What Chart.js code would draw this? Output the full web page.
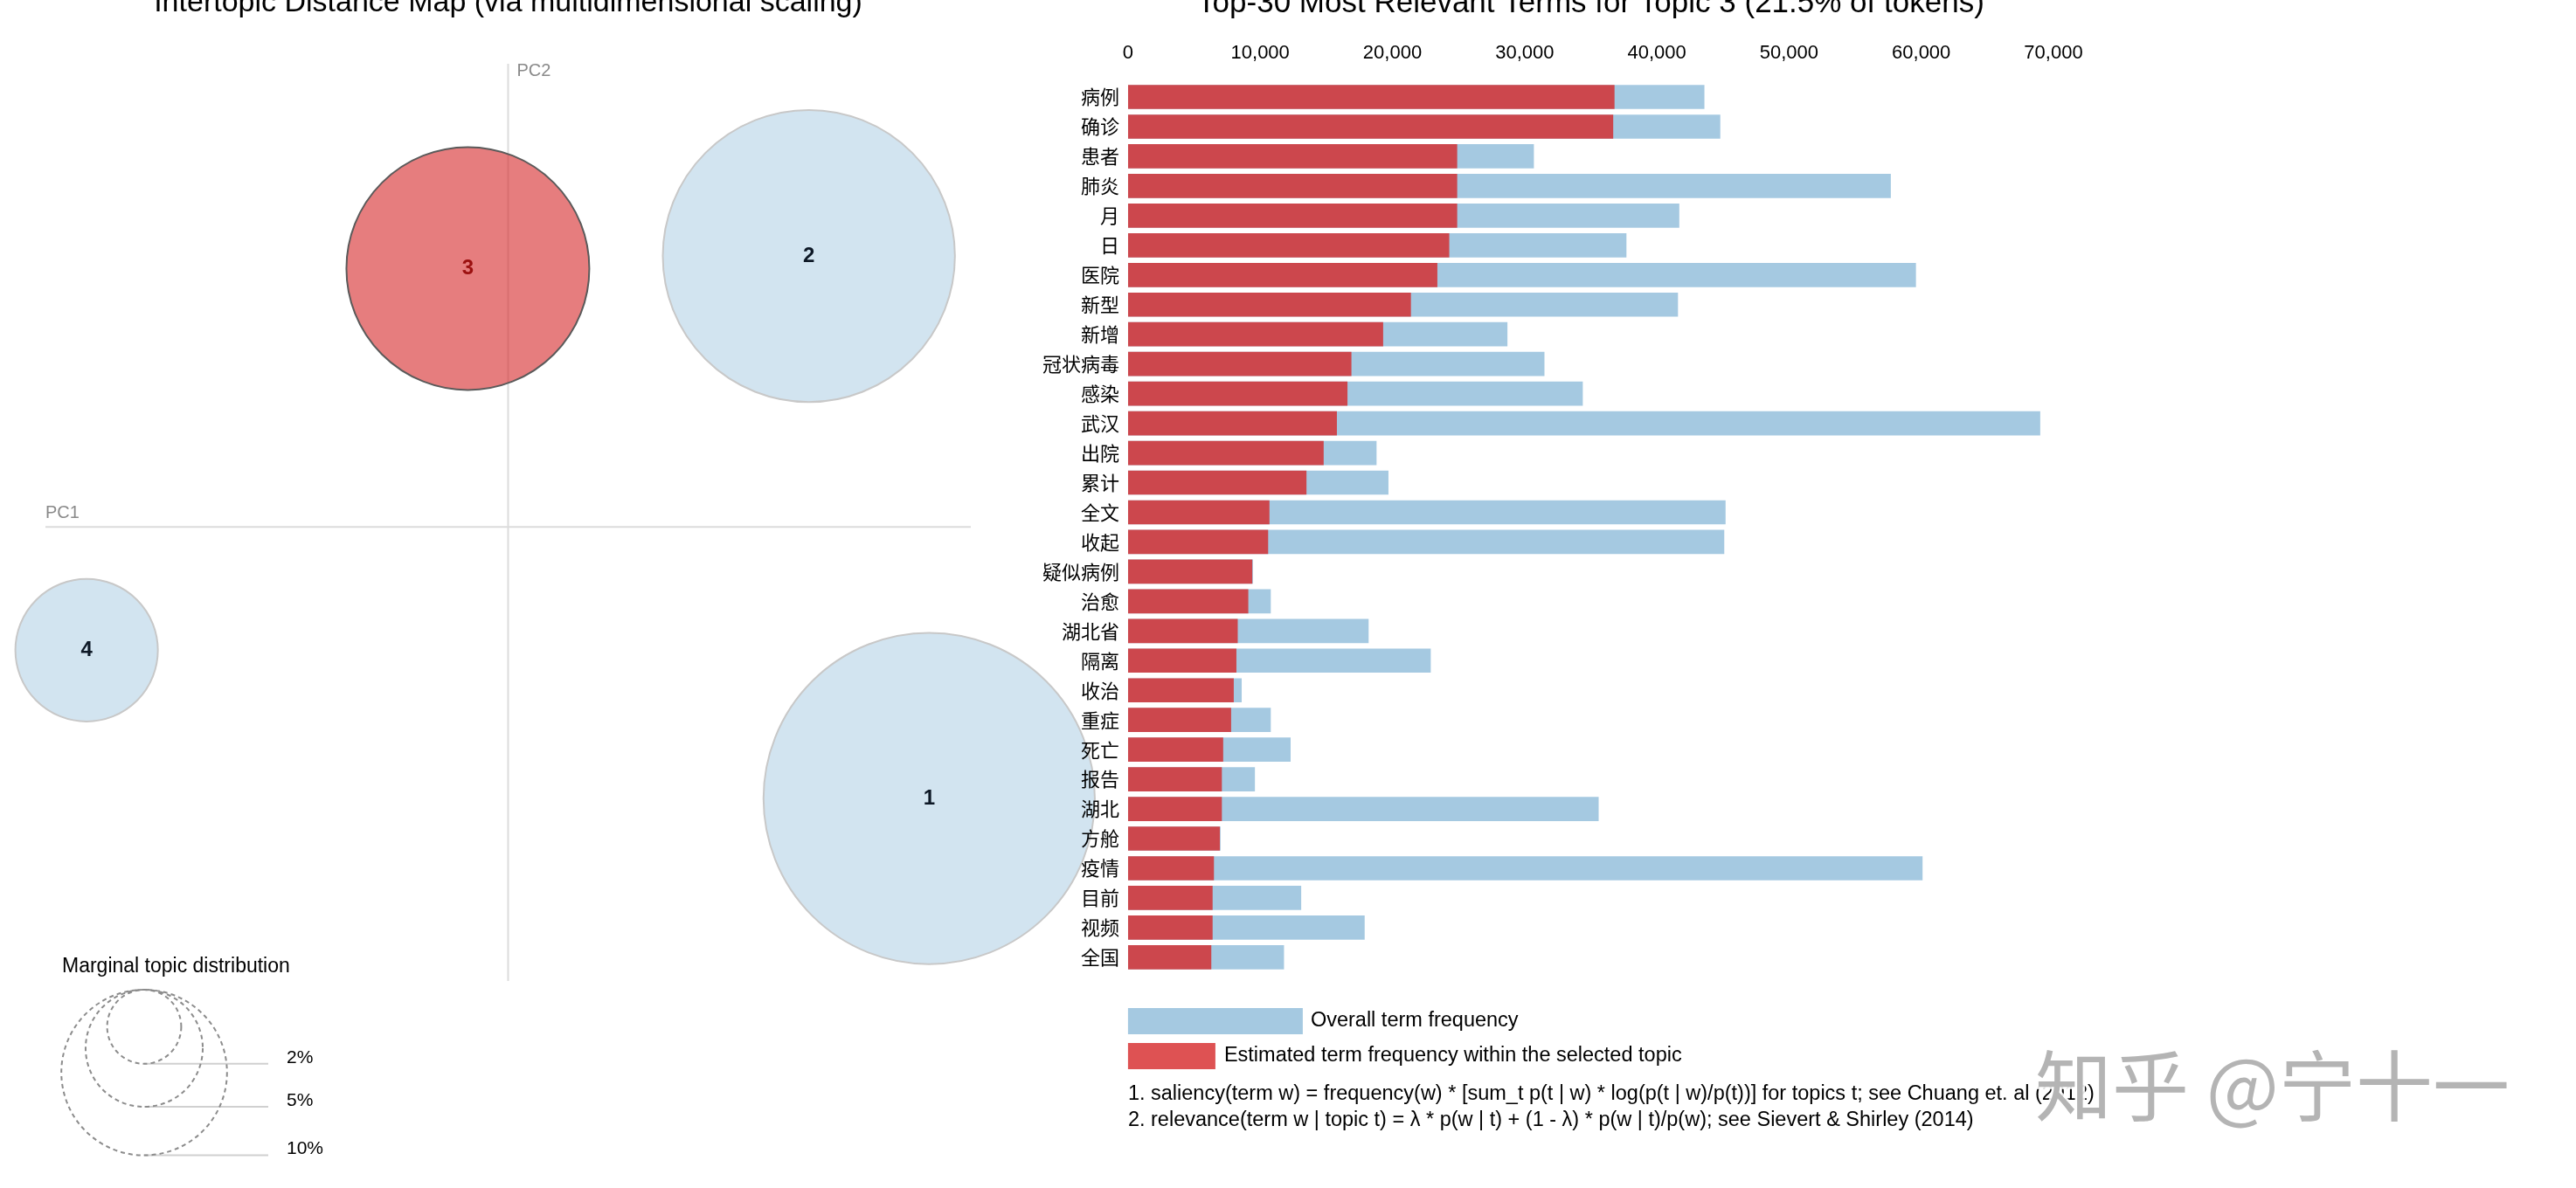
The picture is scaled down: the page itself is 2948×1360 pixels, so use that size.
<!DOCTYPE html>
<html>
<head>
<meta charset="utf-8">
<script src="https://cdn.jsdelivr.net/npm/chart.js@4"></script>
<style>
  html, body { margin: 0; padding: 0; background: #fff; overflow: hidden; }
  #wrap { position: relative; width: 2948px; height: 1360px; overflow: hidden; background: #fff; }
  canvas { position: absolute; }
</style>
</head>
<body>
<div id="wrap">
  <canvas id="mds" width="1300" height="1377" style="left:0;top:-17px"></canvas>
  <canvas id="bars" width="1798" height="1377" style="left:1150px;top:-17px"></canvas>
</div>
<script>
// ---------------- data ----------------
const TOPIC_IDS   = [1, 2, 3, 4];
const TOPIC_PC1   = [0.910, 0.650, -0.087, -0.911];
const TOPIC_PC2   = [-0.586, 0.585, 0.558, -0.266];
const TOPIC_SHARE = [40.0, 31.1, 21.5, 7.4];          // % of tokens
const SELECTED_TOPIC = 3;
const MARGINAL_LEGEND = [2, 5, 10];                    // %

const TERMS = ['病例','确诊','患者','肺炎','月','日','医院','新型','新增','冠状病毒',
               '感染','武汉','出院','累计','全文','收起','疑似病例','治愈','湖北省','隔离',
               '收治','重症','死亡','报告','湖北','方舱','疫情','目前','视频','全国'];
const TOPIC_FREQ = [36800, 36700, 24900, 24900, 24900, 24300, 23400, 21400, 19300, 16900,
                    16600, 15800, 14800, 13500, 10700, 10600, 9400, 9100, 8300, 8200,
                    8000, 7800, 7200, 7100, 7100, 6950, 6500, 6400, 6400, 6300];
const OVERALL_FREQ = [43600, 44800, 30700, 57700, 41700, 37700, 59600, 41600, 28700, 31500,
                      34400, 69000, 18800, 19700, 45200, 45100, 9450, 10800, 18200, 22900,
                      8600, 10800, 12300, 9600, 35600, 7000, 60100, 13100, 17900, 11800];
const X_TICK_VALUES = [0, 10000, 20000, 30000, 40000, 50000, 60000, 70000];
const X_TICK_LABELS = ['0', '10,000', '20,000', '30,000', '40,000', '50,000', '60,000', '70,000'];

const TITLE_LEFT  = 'Intertopic Distance Map (via multidimensional scaling)';
const TITLE_RIGHT = 'Top-30 Most Relevant Terms for Topic 3 (21.5% of tokens)';
const LEGEND_OVERALL = 'Overall term frequency';
const LEGEND_TOPIC   = 'Estimated term frequency within the selected topic';
const NOTE_1 = '1. saliency(term w) = frequency(w) * [sum_t p(t | w) * log(p(t | w)/p(t))] for topics t; see Chuang et. al (2012)';
const NOTE_2 = '2. relevance(term w | topic t) = \u03BB * p(w | t) + (1 - \u03BB) * p(w | t)/p(w); see Sievert & Shirley (2014)';
const WATERMARK = '知乎 @宁十一';

// ---------------- styles ----------------
const LATIN = "'Liberation Sans', Arial, Helvetica, sans-serif";
const CJK = "'Noto Sans CJK SC', 'Liberation Sans', sans-serif";
Chart.defaults.font.family = LATIN;
Chart.defaults.color = '#000';

const BLUE_LIGHT = 'rgba(31,119,180,0.4)';
const RED_BAR = 'rgba(214,39,40,0.8)';
const BUBBLE_UNIT = 0.5661;  // radius (x-axis units) of a 100% topic

function radiusPx(chart, share) {
  const s = chart.scales && chart.scales.x;
  if (!s) return 0;
  const unit = Math.abs(s.getPixelForValue(1) - s.getPixelForValue(0));
  const r = unit * BUBBLE_UNIT * Math.sqrt(share / 100);
  return isFinite(r) ? r : 0;
}

// ---------------- left: MDS map ----------------
const mdsPlugin = {
  id: 'mdsDecor',
  beforeDatasetsDraw(chart) {
    const { ctx, chartArea: a, scales: { x, y } } = chart;
    const x0 = x.getPixelForValue(0), y0 = y.getPixelForValue(0);
    ctx.save();
    ctx.strokeStyle = '#dcdcdc';
    ctx.lineWidth = 2;
    ctx.beginPath();
    ctx.moveTo(a.left, y0); ctx.lineTo(a.right, y0);
    ctx.moveTo(x0, a.top); ctx.lineTo(x0, a.bottom);
    ctx.stroke();
    ctx.fillStyle = '#8a8a8a';
    ctx.font = '20px ' + LATIN;
    ctx.textBaseline = 'middle';
    ctx.textAlign = 'left';
    ctx.fillText('PC1', a.left, y0 - 16);
    ctx.fillText('PC2', x0 + 10, a.top + 8);
    ctx.restore();
  },
  afterDatasetsDraw(chart) {
    const { ctx } = chart;
    const meta = chart.getDatasetMeta(0);
    ctx.save();
    ctx.font = 'bold 24px ' + LATIN;
    ctx.textAlign = 'center';
    ctx.textBaseline = 'middle';
    meta.data.forEach((el, i) => {
      ctx.fillStyle = TOPIC_IDS[i] === SELECTED_TOPIC ? '#9b1010' : '#0d1826';
      ctx.fillText(String(TOPIC_IDS[i]), el.x, el.y);
    });
    ctx.restore();
  },
  afterDraw(chart) {
    const { ctx } = chart;
    const cx = 165, top = 1150;
    ctx.save();
    ctx.font = '23px ' + LATIN;
    ctx.fillStyle = '#000';
    ctx.textAlign = 'left';
    ctx.textBaseline = 'middle';
    ctx.fillText('Marginal topic distribution', 71, 1124);
    MARGINAL_LEGEND.forEach(s => {
      const r = radiusPx(chart, s);
      const bottom = top + 2 * r;
      ctx.strokeStyle = '#d0d0d0';
      ctx.lineWidth = 2;
      ctx.setLineDash([]);
      ctx.beginPath(); ctx.moveTo(cx, bottom); ctx.lineTo(307, bottom); ctx.stroke();
      ctx.strokeStyle = '#8c8c8c';
      ctx.setLineDash([5, 4]);
      ctx.beginPath(); ctx.arc(cx, top + r, r, 0, Math.PI * 2); ctx.stroke();
      ctx.setLineDash([]);
      ctx.font = '21px ' + LATIN;
      ctx.fillStyle = '#000';
      ctx.fillText(s + '%', 328, bottom - 7);
    });
    ctx.restore();
  }
};

new Chart(document.getElementById('mds'), {
  type: 'scatter',
  data: {
    datasets: [{
      data: TOPIC_IDS.map((t, i) => ({ x: TOPIC_PC1[i], y: TOPIC_PC2[i] })),
      pointRadius: ctx => radiusPx(ctx.chart, TOPIC_SHARE[ctx.dataIndex]),
      pointHoverRadius: ctx => radiusPx(ctx.chart, TOPIC_SHARE[ctx.dataIndex]),
      pointBackgroundColor: TOPIC_IDS.map(t => t === SELECTED_TOPIC ? 'rgba(214,39,40,0.6)' : 'rgba(31,119,180,0.2)'),
      pointBorderColor: TOPIC_IDS.map(t => t === SELECTED_TOPIC ? '#5a5a5a' : '#c8c8c8'),
      pointBorderWidth: 2,
      showLine: false,
      clip: false
    }]
  },
  options: {
    responsive: false,
    devicePixelRatio: 1,
    animation: false,
    events: [],
    layout: { padding: { left: 52, right: 189, top: 0, bottom: 237 } },
    scales: {
      x: { type: 'linear', min: -1, max: 1, display: false },
      y: { type: 'linear', min: -0.98, max: 1, display: false }
    },
    plugins: {
      legend: { display: false },
      tooltip: { enabled: false },
      title: {
        display: true, text: TITLE_LEFT, fullSize: false,
        font: { size: 34, weight: 'normal', family: LATIN }, color: '#000',
        padding: { top: 0, bottom: 49.2 }
      }
    }
  },
  plugins: [mdsPlugin]
});

// ---------------- right: bar chart ----------------
const barPlugin = {
  id: 'barDecor',
  afterDraw(chart) {
    const { ctx, chartArea: a } = chart;
    ctx.save();
    ctx.textAlign = 'left';
    ctx.textBaseline = 'middle';
    ctx.font = '23.5px ' + LATIN;
    // legend
    ctx.fillStyle = BLUE_LIGHT;
    ctx.fillRect(a.left, 1171, 200, 30);
    ctx.fillStyle = RED_BAR;
    ctx.fillRect(a.left, 1211, 100, 30);
    ctx.fillStyle = '#000';
    ctx.fillText(LEGEND_OVERALL, a.left + 209, 1186);
    ctx.fillText(LEGEND_TOPIC, a.left + 110, 1226);
    // notes
    ctx.fillText(NOTE_1, a.left, 1270);
    ctx.fillText(NOTE_2, a.left, 1300);
    // watermark
    ctx.font = '88px ' + CJK;
    ctx.lineWidth = 5;
    ctx.strokeStyle = 'rgba(255,255,255,0.9)';
    ctx.strokeText(WATERMARK, 1179, 1260);
    ctx.fillStyle = '#b4b4b4';
    ctx.fillText(WATERMARK, 1179, 1260);
    ctx.restore();
  }
};

new Chart(document.getElementById('bars'), {
  type: 'bar',
  data: {
    labels: TERMS,
    datasets: [
      { label: LEGEND_TOPIC, data: TOPIC_FREQ, backgroundColor: RED_BAR },
      { label: LEGEND_OVERALL, data: OVERALL_FREQ, backgroundColor: BLUE_LIGHT }
    ]
  },
  options: {
    indexAxis: 'y',
    responsive: false,
    devicePixelRatio: 1,
    animation: false,
    events: [],
    grouped: false,
    barPercentage: 0.815,
    categoryPercentage: 1.0,
    borderWidth: 0,
    layout: { padding: { left: 0, right: 598, top: 0, bottom: 247.15 } },
    scales: {
      x: {
        type: 'linear', position: 'top', min: 0, max: 70000,
        grid: { display: false, drawTicks: false },
        border: { display: false },
        afterBuildTicks: s => { s.ticks = X_TICK_VALUES.map(v => ({ value: v })); },
        afterFit: s => { s.height = 69.05; },
        ticks: {
          padding: 20,
          maxRotation: 0,
          autoSkip: false,
          font: { size: 22, family: LATIN },
          color: '#000',
          callback: (v, i) => X_TICK_LABELS[i]
        }
      },
      y: {
        type: 'category',
        grid: { display: false, drawTicks: false },
        border: { display: false },
        afterFit: s => { s.width = 140.9; },
        ticks: {
          padding: 10,
          autoSkip: false,
          font: { size: 22, family: CJK },
          color: '#000'
        }
      }
    },
    plugins: {
      legend: { display: false },
      tooltip: { enabled: false },
      title: {
        display: true, text: TITLE_RIGHT, fullSize: false,
        font: { size: 35, weight: 'normal', family: LATIN }, color: '#000',
        padding: { top: 0, bottom: 0 }
      }
    }
  },
  plugins: [barPlugin]
});
</script>
</body>
</html>
